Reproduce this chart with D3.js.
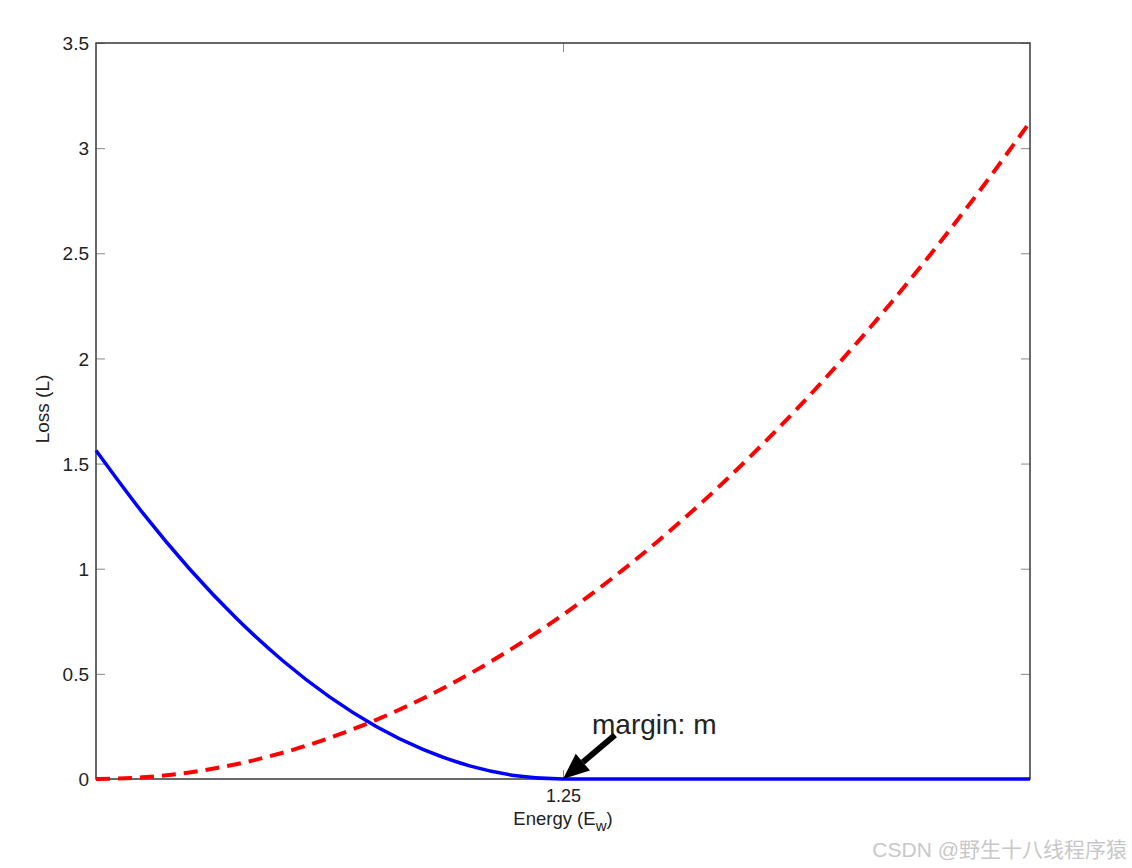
<!DOCTYPE html>
<html>
<head>
<meta charset="utf-8">
<script src="https://cdn.jsdelivr.net/npm/d3@7"></script>
<style>
  body { margin: 0; background: #fff; }
  svg text { font-family: "Liberation Sans", Arial, sans-serif; fill: #222; }
</style>
</head>
<body>
<div id="chart"></div>
<script>
// energy samples (E_w)
const energy = [0, 0.125, 0.25, 0.375, 0.5, 0.625, 0.75, 0.875, 1.0, 1.125, 1.25,
  1.375, 1.5, 1.625, 1.75, 1.875, 2.0, 2.125, 2.25, 2.375, 2.5];
// blue solid: loss for dissimilar pairs
const lossBlue = [1.5625, 1.2656, 1.0, 0.7656, 0.5625, 0.3906, 0.25, 0.1406, 0.0625, 0.0156, 0,
  0, 0, 0, 0, 0, 0, 0, 0, 0, 0];
// red dashed: loss for similar pairs
const lossRed = [0, 0.0078, 0.0313, 0.0703, 0.125, 0.1953, 0.2813, 0.3828, 0.5, 0.6328, 0.7813,
  0.9453, 1.125, 1.3203, 1.5313, 1.7578, 2.0, 2.2578, 2.5313, 2.8203, 3.125];
const yTicks = [0, 0.5, 1, 1.5, 2, 2.5, 3, 3.5];
const xTicks = [1.25];

const W = 1132, H = 868;
const margin = { top: 43, right: 102, bottom: 89, left: 96 };
const width = W - margin.left - margin.right;
const height = H - margin.top - margin.bottom;

const svg = d3.select("#chart").append("svg")
  .attr("width", W).attr("height", H);

const g = svg.append("g")
  .attr("transform", `translate(${margin.left},${margin.top})`);

const x = d3.scaleLinear().domain([0, 2.5]).range([0, width]);
const y = d3.scaleLinear().domain([0, 3.5]).range([height, 0]);

// ticks inward on all four sides (matlab style)
const tickLen = 9;
const fs = "19px";
g.append("g")
  .call(d3.axisLeft(y).tickValues(yTicks).tickSize(-tickLen).tickPadding(7)
    .tickFormat(d3.format("")))
  .call(a => a.select(".domain").remove())
  .call(a => a.selectAll("line").attr("stroke", "#888"))
  .call(a => a.selectAll("text").style("font-size", fs).attr("dy", "0.35em"));

g.append("g")
  .attr("transform", `translate(${width},0)`)
  .call(d3.axisRight(y).tickValues(yTicks).tickSize(-tickLen).tickFormat(""))
  .call(a => a.select(".domain").remove())
  .call(a => a.selectAll("line").attr("stroke", "#888"));

g.append("g")
  .attr("transform", `translate(0,${height})`)
  .call(d3.axisBottom(x).tickValues(xTicks).tickSize(-tickLen).tickPadding(10)
    .tickFormat(d3.format("")))
  .call(a => a.select(".domain").remove())
  .call(a => a.selectAll("line").attr("stroke", "#888"))
  .call(a => a.selectAll("text").style("font-size", "18px"));

g.append("g")
  .call(d3.axisTop(x).tickValues(xTicks).tickSize(-tickLen).tickFormat(""))
  .call(a => a.select(".domain").remove())
  .call(a => a.selectAll("line").attr("stroke", "#888"));

// frame
g.append("rect")
  .attr("width", width).attr("height", height)
  .attr("fill", "none").attr("stroke", "#444").attr("stroke-width", 1.6);

const pts = (vals) => energy.map((e, i) => [e, vals[i]]);
const line = d3.line().x(d => x(d[0])).y(d => y(d[1])).curve(d3.curveMonotoneX);

g.append("path")
  .attr("d", line(pts(lossRed)))
  .attr("fill", "none").attr("stroke", "#ff0000")
  .attr("stroke-width", 4).attr("stroke-dasharray", "14 8");

g.append("path")
  .attr("d", line(pts(lossBlue)))
  .attr("fill", "none").attr("stroke", "#0000ff")
  .attr("stroke-width", 3.5);

// annotation arrow pointing at the margin
const tipX = x(1.25), tipY = y(0);
const tailX = tipX + 52, tailY = tipY - 44;
const ang = Math.atan2(tipY - tailY, tipX - tailX);
const headLen = 26, headW = 11;
const bx = tipX - headLen * Math.cos(ang), by = tipY - headLen * Math.sin(ang);
g.append("line")
  .attr("x1", tailX).attr("y1", tailY).attr("x2", bx).attr("y2", by)
  .attr("stroke", "#000").attr("stroke-width", 6);
g.append("path")
  .attr("d", `M${tipX},${tipY}
    L${bx + headW * Math.sin(ang)},${by - headW * Math.cos(ang)}
    L${bx - headW * Math.sin(ang)},${by + headW * Math.cos(ang)}Z`)
  .attr("fill", "#000");

g.append("text")
  .attr("x", tipX + 29).attr("y", tipY - 45)
  .style("font-size", "28px")
  .text("margin: m");

// axis labels
const xl = svg.append("text")
  .attr("x", margin.left + x(1.25)).attr("y", 825)
  .attr("text-anchor", "middle")
  .style("font-size", "18.5px");
xl.append("tspan").text("Energy (E");
xl.append("tspan").attr("dy", 6).style("font-size", "15px").text("w");
xl.append("tspan").attr("dy", -6).text(")");

svg.append("text")
  .attr("transform", `translate(49,${margin.top + y(1.75) - 2}) rotate(-90)`)
  .attr("text-anchor", "middle")
  .style("font-size", fs)
  .text("Loss (L)");

// watermark
svg.append("text")
  .attr("x", 1127).attr("y", 857)
  .attr("text-anchor", "end")
  .style("font-size", "21px")
  .style("font-family", "'Liberation Sans', 'Noto Sans CJK SC', sans-serif")
  .style("fill", "#c8c8c8")
  .text("CSDN @野生十八线程序猿");
</script>
</body>
</html>
